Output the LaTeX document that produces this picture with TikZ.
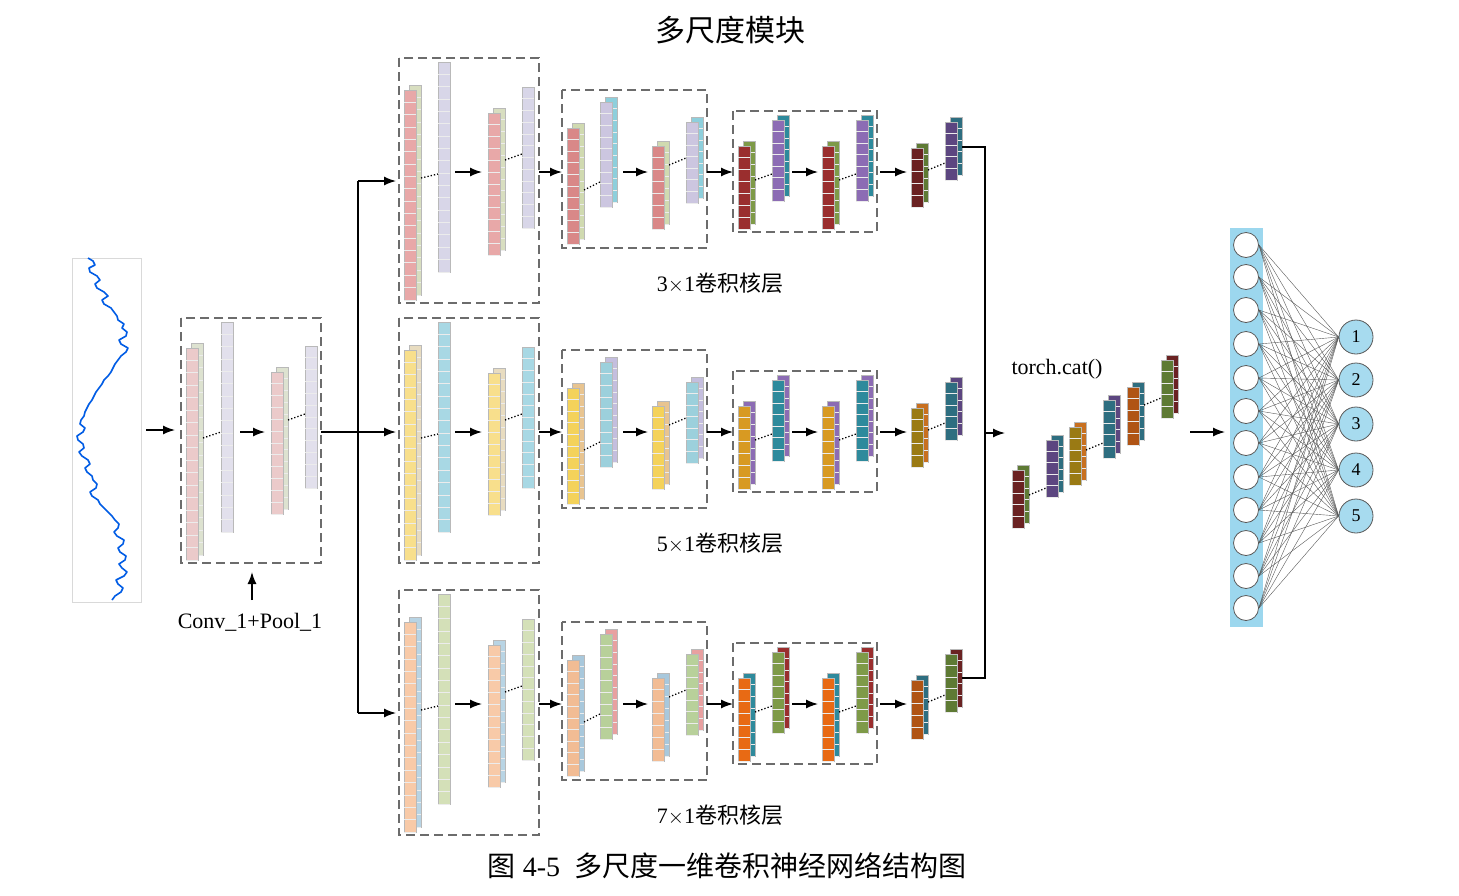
\documentclass[tikz,border=0pt]{standalone}
\usepackage{fontspec}
\setmainfont{Liberation Serif}
\newfontfamily\cjk{Noto Sans CJK SC}
\usetikzlibrary{arrows.meta}
\tikzset{
 dbox/.style={draw=gray!85!black,dashed,dash pattern=on 9pt off 5pt,line width=1.3pt},
 arr/.style={-{Latex[length=12pt,width=9pt]},line width=1.4pt},
 conn/.style={line width=1.4pt},
 dots/.style={dotted,line width=1.3pt},
 lbl/.style={font=\fontsize{22}{24}\selectfont,inner sep=0pt}
}
\newcommand\fmap[5]{%
 \fill[#5,draw=gray!55,line width=.8pt] (#1+5,#2-5) rectangle (#1+17,#3-5);
 \pgfmathtruncatemacro\nc{round((#3-#2)/12.2)}%
 \pgfmathsetmacro\ch{(#3-#2)/\nc}%
 \foreach \k in {1,...,\nc}{\draw[white!85!gray,line width=.9pt] (#1+12.5,#2-5+\k*\ch) -- (#1+17,#2-5+\k*\ch);}
 \fill[#4,draw=gray!55,line width=.8pt] (#1,#2) rectangle (#1+12,#3);
 \foreach \k in {1,...,\nc}{\draw[white!85!gray,line width=.9pt] (#1,#2+\k*\ch) -- (#1+12,#2+\k*\ch);}
}
\newcommand\smap[4]{%
 \pgfmathtruncatemacro\nc{round((#3-#2)/12.2)}%
 \pgfmathsetmacro\ch{(#3-#2)/\nc}%
 \fill[#4,draw=gray!55,line width=.8pt] (#1,#2) rectangle (#1+12,#3);
 \foreach \k in {1,...,\nc}{\draw[white!85!gray,line width=.9pt] (#1,#2+\k*\ch) -- (#1+12,#2+\k*\ch);}
}
\newcommand\branch[2]{%
\begin{scope}[yshift=-#1pt]
 \draw[dbox] (399,58) rectangle (539,303);
 \fmap{404}{90}{300}{Af}{Ab}
 \smap{438}{62}{272}{Ag}
 \draw[dots] (421,178) -- (438,174);
 \draw[arr] (455,172) -- (482,172);
 \fmap{488}{113}{255}{Af}{Ab}
 \smap{522}{87}{228}{Ag}
 \draw[dots] (505,160) -- (522,154);
 \draw[arr] (539,172) -- (562,172);
 \draw[dbox] (562,90) rectangle (707,248);
 \fmap{567}{128}{244}{Bf}{Bb}
 \fmap{600}{102}{207}{Bg}{Bh}
 \draw[dots] (584,190) -- (600,182);
 \draw[arr] (623,172) -- (648,172);
 \fmap{652}{146}{229}{Bf}{Bb}
 \fmap{686}{122}{203}{Bg}{Bh}
 \draw[dots] (669,165) -- (686,158);
 \draw[arr] (707,172) -- (733,172);
 \draw[dbox] (733,111) rectangle (877,232);
 \fmap{738}{146}{229}{Cf}{Cb}
 \fmap{772}{120}{201}{Cg}{Ch}
 \draw[dots] (755,180) -- (772,174);
 \draw[arr] (792,172) -- (818,172);
 \fmap{822}{146}{229}{Cf}{Cb}
 \fmap{856}{120}{201}{Cg}{Ch}
 \draw[dots] (839,180) -- (856,174);
 \draw[arr] (880,172) -- (907,172);
 \fmap{911}{148}{207}{Df}{Db}
 \fmap{945}{122}{180}{Dg}{Dh}
 \draw[dots] (928,170) -- (945,163);
 \node[lbl] (l#1) at (720,283) {#2$\times$1{\cjk 卷积核层}};
\end{scope}}
\begin{document}
\begin{tikzpicture}[x=1pt,y=-1pt]
\useasboundingbox (0,0) rectangle (1459,895);
\fill[white] (0,0) rectangle (1459,895);
\node[font=\fontsize{30}{32}\selectfont\cjk] (title) at (730,30) {多尺度模块};
\node[font=\fontsize{28}{30}\selectfont] (cap) at (727,866) {{\cjk 图} 4-5\ \ {\cjk 多尺度一维卷积神经网络结构图}};
% signal
\draw[gray!30] (72,258) rectangle (141,602);
\draw[blue!60!cyan!90!black,line width=1.6pt,line join=round] plot coordinates {(88,258)(93,261)(95,265)(89,268)(90,272)(97,276)(100,280)(95,284)(97,288)(104,292)(108,296)(102,300)(104,304)(111,308)(114,312)(117,316)(118,320)(124,324)(122,328)(127,332)(126,336)(119,340)(121,344)(128,348)(126,352)(121,356)(118,360)(115,364)(113,368)(111,372)(108,376)(104,380)(102,384)(99,388)(96,392)(94,396)(92,400)(89,404)(87,408)(85,412)(84,416)(81,420)(80,424)(85,428)(83,432)(77,436)(78,440)(83,444)(84,448)(79,452)(82,456)(88,460)(90,464)(85,468)(87,472)(92,476)(93,480)(97,484)(96,488)(90,492)(92,496)(98,500)(100,504)(104,508)(108,512)(112,516)(115,520)(119,524)(118,528)(114,532)(117,536)(124,540)(123,544)(118,548)(120,552)(126,556)(125,560)(119,564)(122,568)(127,572)(124,576)(116,580)(118,584)(123,588)(121,592)(115,596)(112,600)};
\draw[arr] (146,430) -- (175,430);
% conv1
\draw[dbox] (181,318) rectangle (321,563);
\definecolor{Pf}{HTML}{EBCACA}\definecolor{Pb}{HTML}{DDE2D0}\definecolor{Pg}{HTML}{E2E0EC}
\fmap{186}{348}{560}{Pf}{Pb}
\smap{221}{322}{532}{Pg}
\draw[dots] (203,438) -- (221,432);
\draw[arr] (240,432) -- (265,432);
\fmap{271}{372}{514}{Pf}{Pb}
\smap{305}{346}{488}{Pg}
\draw[dots] (288,420) -- (305,414);
\draw[arr] (252,600) -- (252,572);
\node[lbl] (c1) at (250,622) {Conv\_1+Pool\_1};
% split
\coordinate (s0) at (358,432);
\draw[conn] (321,432) -- (s0);
\draw[conn] (358,181) -- (358,713);
\draw[arr] (358,181) -- (396,181);
\draw[arr] (358,432) -- (396,432);
\draw[arr] (358,713) -- (396,713);
% row 1
\definecolor{Af}{HTML}{E8A8A8}\definecolor{Ab}{HTML}{D8DEC0}\definecolor{Ag}{HTML}{D8D6E8}
\definecolor{Bf}{HTML}{D98888}\definecolor{Bb}{HTML}{D0DAB0}\definecolor{Bg}{HTML}{CCC6E0}\definecolor{Bh}{HTML}{8ECFDC}
\definecolor{Cf}{HTML}{9A2E2E}\definecolor{Cb}{HTML}{7E9A48}\definecolor{Cg}{HTML}{8C6CB4}\definecolor{Ch}{HTML}{2E8A9C}
\definecolor{Df}{HTML}{6A2222}\definecolor{Db}{HTML}{5E7A34}\definecolor{Dg}{HTML}{5C4680}\definecolor{Dh}{HTML}{2E6E80}
\branch{0}{3}
% row 2
\definecolor{Af}{HTML}{F8DF8C}\definecolor{Ab}{HTML}{E8DCC0}\definecolor{Ag}{HTML}{A8D8E4}
\definecolor{Bf}{HTML}{F4D25A}\definecolor{Bb}{HTML}{E8C490}\definecolor{Bg}{HTML}{9CD0DC}\definecolor{Bh}{HTML}{C4BEDE}
\definecolor{Cf}{HTML}{D89A22}\definecolor{Cb}{HTML}{8C6CB4}\definecolor{Cg}{HTML}{2E8A9C}\definecolor{Ch}{HTML}{8C6CB4}
\definecolor{Df}{HTML}{9A7A14}\definecolor{Db}{HTML}{C87020}\definecolor{Dg}{HTML}{2E6E80}\definecolor{Dh}{HTML}{5C4680}
\branch{260}{5}
% row 3
\definecolor{Af}{HTML}{F8CAA8}\definecolor{Ab}{HTML}{B8D4E4}\definecolor{Ag}{HTML}{D4E0B8}
\definecolor{Bf}{HTML}{F2BC94}\definecolor{Bb}{HTML}{A8C8DC}\definecolor{Bg}{HTML}{B8D09A}\definecolor{Bh}{HTML}{E8A0A0}
\definecolor{Cf}{HTML}{E86A14}\definecolor{Cb}{HTML}{2E8A9C}\definecolor{Cg}{HTML}{7E9A48}\definecolor{Ch}{HTML}{9A2E2E}
\definecolor{Df}{HTML}{B05414}\definecolor{Db}{HTML}{2E6E80}\definecolor{Dg}{HTML}{5E7A34}\definecolor{Dh}{HTML}{6A2222}
\branch{532}{7}
% merge
\draw[conn] (962,147) -- (985,147) -- (985,678) -- (962,678);
\draw[arr] (985,433) -- (1005,433);
\node[lbl] (tc) at (1057,369) {torch.cat()};
\definecolor{M1}{HTML}{6A2222}\definecolor{M2}{HTML}{5E7A34}\definecolor{M3}{HTML}{5C4680}\definecolor{M4}{HTML}{2E6E80}
\definecolor{M5}{HTML}{9A7A14}\definecolor{M6}{HTML}{C87020}\definecolor{M7}{HTML}{B05414}
\fmap{1012}{470}{528}{M1}{M2}
\fmap{1046}{440}{497}{M3}{M4}
\draw[dots] (1029,495) -- (1046,488);
\fmap{1069}{427}{485}{M5}{M6}
\fmap{1103}{400}{458}{M4}{M3}
\draw[dots] (1086,450) -- (1103,443);
\fmap{1127}{387}{445}{M7}{M4}
\fmap{1161}{360}{418}{M2}{M1}
\draw[dots] (1144,405) -- (1161,398);
\draw[arr] (1190,432) -- (1225,432);
% FC
\fill[cyan!40!white!90!gray] (1230,228) rectangle (1263,627);
\foreach \yy [count=\i] in {245,277,310,344,378,411,443,477,510,543,576,608}{
 \node[circle,draw=gray!70!black,fill=white,minimum size=25pt,inner sep=0pt,line width=.8pt] (h\i) at (1246,\yy) {};}
\foreach \yy/\t [count=\j] in {337/1,380/2,424/3,470/4,516/5}{
 \node[circle,draw=gray!70!black,fill=cyan!35!white!90!gray,minimum size=34pt,inner sep=0pt,line width=.8pt,font=\fontsize{18}{20}\selectfont] (o\j) at (1356,\yy) {\t};}
\foreach \i in {1,...,12}{\foreach \j in {1,...,5}{\draw[line width=.4pt,gray!70!black] (h\i.east) -- (o\j.west);}}
\end{tikzpicture}
\end{document}
